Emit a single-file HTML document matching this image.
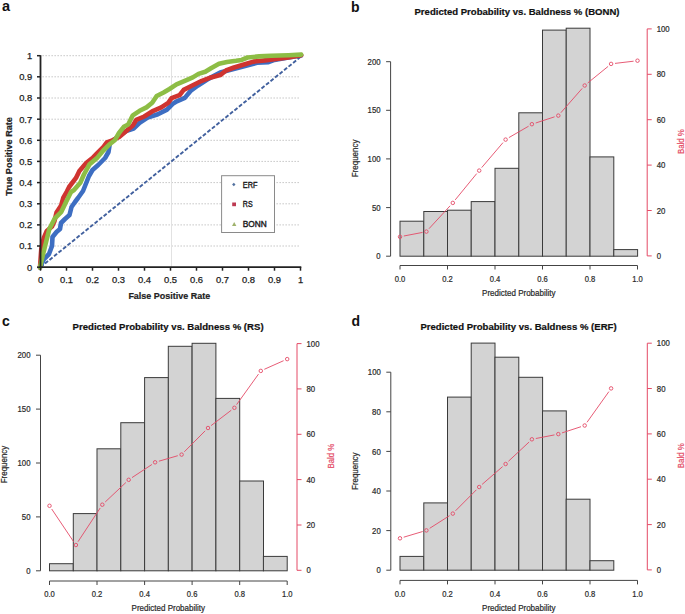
<!DOCTYPE html><html><head><meta charset="utf-8"><style>html,body{margin:0;padding:0;background:#fff;}svg{display:block;font-family:"Liberation Sans",sans-serif;}</style></head><body>
<svg width="685" height="614" viewBox="0 0 685 614">
<rect width="685" height="614" fill="#fff"/>
<line x1="42.5" y1="246.0" x2="300.5" y2="246.0" stroke="#bcbcbc" stroke-width="1" stroke-dasharray="1.3,1.7"/>
<line x1="42.5" y1="224.9" x2="300.5" y2="224.9" stroke="#bcbcbc" stroke-width="1" stroke-dasharray="1.3,1.7"/>
<line x1="42.5" y1="203.8" x2="300.5" y2="203.8" stroke="#bcbcbc" stroke-width="1" stroke-dasharray="1.3,1.7"/>
<line x1="42.5" y1="182.6" x2="300.5" y2="182.6" stroke="#bcbcbc" stroke-width="1" stroke-dasharray="1.3,1.7"/>
<line x1="42.5" y1="161.4" x2="300.5" y2="161.4" stroke="#bcbcbc" stroke-width="1" stroke-dasharray="1.3,1.7"/>
<line x1="42.5" y1="140.3" x2="300.5" y2="140.3" stroke="#bcbcbc" stroke-width="1" stroke-dasharray="1.3,1.7"/>
<line x1="42.5" y1="119.2" x2="300.5" y2="119.2" stroke="#bcbcbc" stroke-width="1" stroke-dasharray="1.3,1.7"/>
<line x1="42.5" y1="98.0" x2="300.5" y2="98.0" stroke="#bcbcbc" stroke-width="1" stroke-dasharray="1.3,1.7"/>
<line x1="42.5" y1="76.8" x2="300.5" y2="76.8" stroke="#bcbcbc" stroke-width="1" stroke-dasharray="1.3,1.7"/>
<line x1="42.5" y1="55.7" x2="300.5" y2="55.7" stroke="#bcbcbc" stroke-width="1" stroke-dasharray="1.3,1.7"/>
<line x1="171.5" y1="55.7" x2="171.5" y2="267.2" stroke="#e2e2e2" stroke-width="1"/>
<line x1="40.5" y1="267.2" x2="301.2" y2="56.4" stroke="#41609e" stroke-width="1.9" stroke-dasharray="3.9,1.9"/>
<polyline points="40,267.5 44,259 49,254 52,246 52.5,237 56.5,232 60,229 61,223 65,219 69.5,215 71.5,207 75,202 78,198 83,191 87,181 89,176 92.5,170 98.2,165 105.1,158 108.5,152 110,142.5 117,137.5 126,131.2 133.6,128.5 139.6,122.8 147.6,117.6 157.9,114.2 167,109.6 172.7,103.9 176.8,101.3 184.8,97.9 190.5,91 198,85.5 208.8,78.6 220.2,72.5 238.4,67.8 256.9,62.8 268.5,62.2 274.4,59.9 288.4,57.5 301,55.5" fill="none" stroke="#3d6ec2" stroke-width="4.6" stroke-linejoin="round" stroke-linecap="round"/>
<polyline points="40,267.5 41.3,249 43.8,238 46.8,231 52,226.5 54.5,221 56.5,212.5 61.1,205.6 63.2,198 67,191.3 69.1,187 76,177.9 79.4,171 86.2,163.1 93.1,157.4 96.5,154 103.3,147.1 106.8,142.5 112.5,140.3 119.2,136.9 126,131.3 132.8,125.6 136.2,119.9 144.2,116.5 153.3,110.8 161.3,107.4 168.2,102.8 171.6,98.2 179.5,95.2 183.7,89.9 192.8,85.3 201.9,80.8 211,77.4 220.2,75.1 226,70.5 234,67.5 244,64.5 253.4,61.6 265,60.4 274.4,59.3 288.4,57.5 301.2,55.2" fill="none" stroke="#cf3430" stroke-width="4.6" stroke-linejoin="round" stroke-linecap="round"/>
<polyline points="40,267.5 42.8,255.2 46.7,239.5 49.3,229.1 54.6,218.7 61.1,212.2 66.5,201 71,192 74,190 80.5,182.4 83.9,174.5 89.6,164.2 97.6,157.4 103.3,150.5 109,144.8 114.7,140.3 119,133 123.8,126.8 128.2,124.5 132.8,115.3 139.6,110.8 146.5,107.4 152.2,102.8 156.7,96 163.6,92.5 169.5,89 176.5,84.4 184.8,80.8 192.8,77.4 198.5,73.9 205.3,71.7 211,68.2 219,63.7 227,62 236.1,60.8 241.7,59.9 247.5,57.5 259.2,56.4 270.9,55.8 288.4,55.2 301.2,54.6" fill="none" stroke="#8dbd45" stroke-width="4.6" stroke-linejoin="round" stroke-linecap="round"/>
<line x1="40.5" y1="55.2" x2="40.5" y2="268.0" stroke="#222" stroke-width="1.8"/>
<line x1="39.7" y1="267.2" x2="301.3" y2="267.2" stroke="#222" stroke-width="1.8"/>
<line x1="37.0" y1="267.2" x2="40.5" y2="267.2" stroke="#222" stroke-width="1.5"/>
<text x="32.2" y="270.5" font-size="9.4" text-anchor="end" font-weight="normal" fill="#222" stroke="#222" stroke-width="0.25" >0</text>
<line x1="40.5" y1="267.2" x2="40.5" y2="270.7" stroke="#222" stroke-width="1.5"/>
<text x="40.5" y="282.6" font-size="9.4" text-anchor="middle" font-weight="normal" fill="#222" stroke="#222" stroke-width="0.25" >0</text>
<line x1="37.0" y1="246.0" x2="40.5" y2="246.0" stroke="#222" stroke-width="1.5"/>
<text x="32.2" y="249.3" font-size="9.4" text-anchor="end" font-weight="normal" fill="#222" stroke="#222" stroke-width="0.25" >0.1</text>
<line x1="66.5" y1="267.2" x2="66.5" y2="270.7" stroke="#222" stroke-width="1.5"/>
<text x="66.5" y="282.6" font-size="9.4" text-anchor="middle" font-weight="normal" fill="#222" stroke="#222" stroke-width="0.25" >0.1</text>
<line x1="37.0" y1="224.9" x2="40.5" y2="224.9" stroke="#222" stroke-width="1.5"/>
<text x="32.2" y="228.2" font-size="9.4" text-anchor="end" font-weight="normal" fill="#222" stroke="#222" stroke-width="0.25" >0.2</text>
<line x1="92.5" y1="267.2" x2="92.5" y2="270.7" stroke="#222" stroke-width="1.5"/>
<text x="92.5" y="282.6" font-size="9.4" text-anchor="middle" font-weight="normal" fill="#222" stroke="#222" stroke-width="0.25" >0.2</text>
<line x1="37.0" y1="203.8" x2="40.5" y2="203.8" stroke="#222" stroke-width="1.5"/>
<text x="32.2" y="207.1" font-size="9.4" text-anchor="end" font-weight="normal" fill="#222" stroke="#222" stroke-width="0.25" >0.3</text>
<line x1="118.5" y1="267.2" x2="118.5" y2="270.7" stroke="#222" stroke-width="1.5"/>
<text x="118.5" y="282.6" font-size="9.4" text-anchor="middle" font-weight="normal" fill="#222" stroke="#222" stroke-width="0.25" >0.3</text>
<line x1="37.0" y1="182.6" x2="40.5" y2="182.6" stroke="#222" stroke-width="1.5"/>
<text x="32.2" y="185.9" font-size="9.4" text-anchor="end" font-weight="normal" fill="#222" stroke="#222" stroke-width="0.25" >0.4</text>
<line x1="144.5" y1="267.2" x2="144.5" y2="270.7" stroke="#222" stroke-width="1.5"/>
<text x="144.5" y="282.6" font-size="9.4" text-anchor="middle" font-weight="normal" fill="#222" stroke="#222" stroke-width="0.25" >0.4</text>
<line x1="37.0" y1="161.4" x2="40.5" y2="161.4" stroke="#222" stroke-width="1.5"/>
<text x="32.2" y="164.8" font-size="9.4" text-anchor="end" font-weight="normal" fill="#222" stroke="#222" stroke-width="0.25" >0.5</text>
<line x1="170.5" y1="267.2" x2="170.5" y2="270.7" stroke="#222" stroke-width="1.5"/>
<text x="170.5" y="282.6" font-size="9.4" text-anchor="middle" font-weight="normal" fill="#222" stroke="#222" stroke-width="0.25" >0.5</text>
<line x1="37.0" y1="140.3" x2="40.5" y2="140.3" stroke="#222" stroke-width="1.5"/>
<text x="32.2" y="143.6" font-size="9.4" text-anchor="end" font-weight="normal" fill="#222" stroke="#222" stroke-width="0.25" >0.6</text>
<line x1="196.5" y1="267.2" x2="196.5" y2="270.7" stroke="#222" stroke-width="1.5"/>
<text x="196.5" y="282.6" font-size="9.4" text-anchor="middle" font-weight="normal" fill="#222" stroke="#222" stroke-width="0.25" >0.6</text>
<line x1="37.0" y1="119.2" x2="40.5" y2="119.2" stroke="#222" stroke-width="1.5"/>
<text x="32.2" y="122.5" font-size="9.4" text-anchor="end" font-weight="normal" fill="#222" stroke="#222" stroke-width="0.25" >0.7</text>
<line x1="222.5" y1="267.2" x2="222.5" y2="270.7" stroke="#222" stroke-width="1.5"/>
<text x="222.5" y="282.6" font-size="9.4" text-anchor="middle" font-weight="normal" fill="#222" stroke="#222" stroke-width="0.25" >0.7</text>
<line x1="37.0" y1="98.0" x2="40.5" y2="98.0" stroke="#222" stroke-width="1.5"/>
<text x="32.2" y="101.3" font-size="9.4" text-anchor="end" font-weight="normal" fill="#222" stroke="#222" stroke-width="0.25" >0.8</text>
<line x1="248.5" y1="267.2" x2="248.5" y2="270.7" stroke="#222" stroke-width="1.5"/>
<text x="248.5" y="282.6" font-size="9.4" text-anchor="middle" font-weight="normal" fill="#222" stroke="#222" stroke-width="0.25" >0.8</text>
<line x1="37.0" y1="76.8" x2="40.5" y2="76.8" stroke="#222" stroke-width="1.5"/>
<text x="32.2" y="80.1" font-size="9.4" text-anchor="end" font-weight="normal" fill="#222" stroke="#222" stroke-width="0.25" >0.9</text>
<line x1="274.5" y1="267.2" x2="274.5" y2="270.7" stroke="#222" stroke-width="1.5"/>
<text x="274.5" y="282.6" font-size="9.4" text-anchor="middle" font-weight="normal" fill="#222" stroke="#222" stroke-width="0.25" >0.9</text>
<line x1="37.0" y1="55.7" x2="40.5" y2="55.7" stroke="#222" stroke-width="1.5"/>
<text x="32.2" y="59.0" font-size="9.4" text-anchor="end" font-weight="normal" fill="#222" stroke="#222" stroke-width="0.25" >1</text>
<line x1="300.5" y1="267.2" x2="300.5" y2="270.7" stroke="#222" stroke-width="1.5"/>
<text x="300.5" y="282.6" font-size="9.4" text-anchor="middle" font-weight="normal" fill="#222" stroke="#222" stroke-width="0.25" >1</text>
<text x="169.3" y="298.9" font-size="9" text-anchor="middle" font-weight="bold" fill="#222" stroke="#222" stroke-width="0.2" textLength="81.8" lengthAdjust="spacingAndGlyphs" >False Positive Rate</text>
<text x="12.2" y="156.5" font-size="9" text-anchor="middle" font-weight="bold" fill="#222" stroke="#222" stroke-width="0.2" textLength="78.7" lengthAdjust="spacingAndGlyphs" transform="rotate(-90 12.2 156.5)" >True Positive Rate</text>
<rect x="221.6" y="175.7" width="52.9" height="56.8" fill="#fff" stroke="#8a8a8a" stroke-width="1"/>
<path d="M233.8,182.8 L235.5,184.5 L233.8,186.2 L232.1,184.5 Z" fill="#52719f"/>
<rect x="232.2" y="202.5" width="3.8" height="3.7" fill="#bd3a52"/>
<path d="M234.2,222 L236.4,226 L232,226 Z" fill="#9fb26c"/>
<text x="242.8" y="187.8" font-size="8.8" text-anchor="start" font-weight="normal" fill="#1a1a1a" stroke="#1a1a1a" stroke-width="0.4" textLength="14.6" lengthAdjust="spacingAndGlyphs" >ERF</text>
<text x="242.8" y="207.1" font-size="8.8" text-anchor="start" font-weight="normal" fill="#1a1a1a" stroke="#1a1a1a" stroke-width="0.4" textLength="9.8" lengthAdjust="spacingAndGlyphs" >RS</text>
<text x="242.8" y="226.9" font-size="8.8" text-anchor="start" font-weight="normal" fill="#1a1a1a" stroke="#1a1a1a" stroke-width="0.4" textLength="24" lengthAdjust="spacingAndGlyphs" >BONN</text>
<text x="2" y="10.5" font-size="14.5" text-anchor="start" font-weight="bold" fill="#111" >a</text>
<rect x="400.0" y="221.2" width="23.8" height="35.0" fill="#d3d3d3" stroke="#3a3a3a" stroke-width="1"/>
<rect x="423.8" y="211.5" width="23.8" height="44.7" fill="#d3d3d3" stroke="#3a3a3a" stroke-width="1"/>
<rect x="447.5" y="210.2" width="23.8" height="46.0" fill="#d3d3d3" stroke="#3a3a3a" stroke-width="1"/>
<rect x="471.2" y="201.6" width="23.8" height="54.6" fill="#d3d3d3" stroke="#3a3a3a" stroke-width="1"/>
<rect x="495.0" y="168.3" width="23.8" height="87.9" fill="#d3d3d3" stroke="#3a3a3a" stroke-width="1"/>
<rect x="518.8" y="112.8" width="23.8" height="143.4" fill="#d3d3d3" stroke="#3a3a3a" stroke-width="1"/>
<rect x="542.5" y="30.1" width="23.8" height="226.1" fill="#d3d3d3" stroke="#3a3a3a" stroke-width="1"/>
<rect x="566.2" y="28.2" width="23.8" height="228.0" fill="#d3d3d3" stroke="#3a3a3a" stroke-width="1"/>
<rect x="590.0" y="156.9" width="23.8" height="99.3" fill="#d3d3d3" stroke="#3a3a3a" stroke-width="1"/>
<rect x="613.8" y="249.6" width="23.8" height="6.6" fill="#d3d3d3" stroke="#3a3a3a" stroke-width="1"/>
<line x1="400.0" y1="265.5" x2="637.5" y2="265.5" stroke="#444" stroke-width="1"/>
<line x1="400.0" y1="265.5" x2="400.0" y2="269.5" stroke="#444" stroke-width="1"/>
<text x="400.0" y="281.5" font-size="8.8" text-anchor="middle" font-weight="normal" fill="#2a2a2a" stroke="#2a2a2a" stroke-width="0.22" textLength="10.6" lengthAdjust="spacingAndGlyphs" >0.0</text>
<line x1="447.5" y1="265.5" x2="447.5" y2="269.5" stroke="#444" stroke-width="1"/>
<text x="447.5" y="281.5" font-size="8.8" text-anchor="middle" font-weight="normal" fill="#2a2a2a" stroke="#2a2a2a" stroke-width="0.22" textLength="10.6" lengthAdjust="spacingAndGlyphs" >0.2</text>
<line x1="495.0" y1="265.5" x2="495.0" y2="269.5" stroke="#444" stroke-width="1"/>
<text x="495.0" y="281.5" font-size="8.8" text-anchor="middle" font-weight="normal" fill="#2a2a2a" stroke="#2a2a2a" stroke-width="0.22" textLength="10.6" lengthAdjust="spacingAndGlyphs" >0.4</text>
<line x1="542.5" y1="265.5" x2="542.5" y2="269.5" stroke="#444" stroke-width="1"/>
<text x="542.5" y="281.5" font-size="8.8" text-anchor="middle" font-weight="normal" fill="#2a2a2a" stroke="#2a2a2a" stroke-width="0.22" textLength="10.6" lengthAdjust="spacingAndGlyphs" >0.6</text>
<line x1="590.0" y1="265.5" x2="590.0" y2="269.5" stroke="#444" stroke-width="1"/>
<text x="590.0" y="281.5" font-size="8.8" text-anchor="middle" font-weight="normal" fill="#2a2a2a" stroke="#2a2a2a" stroke-width="0.22" textLength="10.6" lengthAdjust="spacingAndGlyphs" >0.8</text>
<line x1="637.5" y1="265.5" x2="637.5" y2="269.5" stroke="#444" stroke-width="1"/>
<text x="637.5" y="281.5" font-size="8.8" text-anchor="middle" font-weight="normal" fill="#2a2a2a" stroke="#2a2a2a" stroke-width="0.22" textLength="10.6" lengthAdjust="spacingAndGlyphs" >1.0</text>
<text x="518.8" y="295.8" font-size="8.8" text-anchor="middle" font-weight="normal" fill="#2a2a2a" stroke="#2a2a2a" stroke-width="0.22" textLength="73.5" lengthAdjust="spacingAndGlyphs" >Predicted Probability</text>
<line x1="390.6" y1="61.7" x2="390.6" y2="256.2" stroke="#444" stroke-width="1"/>
<line x1="386.1" y1="256.2" x2="390.6" y2="256.2" stroke="#444" stroke-width="1"/>
<text x="380.6" y="259.3" font-size="8.8" text-anchor="end" font-weight="normal" fill="#2a2a2a" stroke="#2a2a2a" stroke-width="0.22" textLength="4.3" lengthAdjust="spacingAndGlyphs" >0</text>
<line x1="386.1" y1="207.6" x2="390.6" y2="207.6" stroke="#444" stroke-width="1"/>
<text x="380.6" y="210.7" font-size="8.8" text-anchor="end" font-weight="normal" fill="#2a2a2a" stroke="#2a2a2a" stroke-width="0.22" textLength="8.7" lengthAdjust="spacingAndGlyphs" >50</text>
<line x1="386.1" y1="158.9" x2="390.6" y2="158.9" stroke="#444" stroke-width="1"/>
<text x="380.6" y="162.0" font-size="8.8" text-anchor="end" font-weight="normal" fill="#2a2a2a" stroke="#2a2a2a" stroke-width="0.22" textLength="13.0" lengthAdjust="spacingAndGlyphs" >100</text>
<line x1="386.1" y1="110.3" x2="390.6" y2="110.3" stroke="#444" stroke-width="1"/>
<text x="380.6" y="113.4" font-size="8.8" text-anchor="end" font-weight="normal" fill="#2a2a2a" stroke="#2a2a2a" stroke-width="0.22" textLength="13.0" lengthAdjust="spacingAndGlyphs" >150</text>
<line x1="386.1" y1="61.7" x2="390.6" y2="61.7" stroke="#444" stroke-width="1"/>
<text x="380.6" y="64.8" font-size="8.8" text-anchor="end" font-weight="normal" fill="#2a2a2a" stroke="#2a2a2a" stroke-width="0.22" textLength="13.0" lengthAdjust="spacingAndGlyphs" >200</text>
<text x="358.1" y="158.4" font-size="8.8" text-anchor="middle" font-weight="normal" fill="#2a2a2a" stroke="#2a2a2a" stroke-width="0.22" textLength="37.5" lengthAdjust="spacingAndGlyphs" transform="rotate(-90 358.1 158.4)" >Frequency</text>
<line x1="647.2" y1="28.9" x2="647.2" y2="255.9" stroke="#e44a66" stroke-width="1"/>
<line x1="647.2" y1="255.9" x2="651.7" y2="255.9" stroke="#e44a66" stroke-width="1"/>
<text x="656.7" y="259.0" font-size="8.8" text-anchor="start" font-weight="normal" fill="#2a2a2a" stroke="#2a2a2a" stroke-width="0.22" textLength="4.3" lengthAdjust="spacingAndGlyphs" >0</text>
<line x1="647.2" y1="210.5" x2="651.7" y2="210.5" stroke="#e44a66" stroke-width="1"/>
<text x="656.7" y="213.6" font-size="8.8" text-anchor="start" font-weight="normal" fill="#2a2a2a" stroke="#2a2a2a" stroke-width="0.22" textLength="8.7" lengthAdjust="spacingAndGlyphs" >20</text>
<line x1="647.2" y1="165.1" x2="651.7" y2="165.1" stroke="#e44a66" stroke-width="1"/>
<text x="656.7" y="168.2" font-size="8.8" text-anchor="start" font-weight="normal" fill="#2a2a2a" stroke="#2a2a2a" stroke-width="0.22" textLength="8.7" lengthAdjust="spacingAndGlyphs" >40</text>
<line x1="647.2" y1="119.7" x2="651.7" y2="119.7" stroke="#e44a66" stroke-width="1"/>
<text x="656.7" y="122.8" font-size="8.8" text-anchor="start" font-weight="normal" fill="#2a2a2a" stroke="#2a2a2a" stroke-width="0.22" textLength="8.7" lengthAdjust="spacingAndGlyphs" >60</text>
<line x1="647.2" y1="74.3" x2="651.7" y2="74.3" stroke="#e44a66" stroke-width="1"/>
<text x="656.7" y="77.4" font-size="8.8" text-anchor="start" font-weight="normal" fill="#2a2a2a" stroke="#2a2a2a" stroke-width="0.22" textLength="8.7" lengthAdjust="spacingAndGlyphs" >80</text>
<line x1="647.2" y1="28.9" x2="651.7" y2="28.9" stroke="#e44a66" stroke-width="1"/>
<text x="656.7" y="32.0" font-size="8.8" text-anchor="start" font-weight="normal" fill="#2a2a2a" stroke="#2a2a2a" stroke-width="0.22" textLength="13.0" lengthAdjust="spacingAndGlyphs" >100</text>
<text x="684.4" y="141.6" font-size="8.8" text-anchor="middle" font-weight="normal" fill="#e44a66" stroke="#e44a66" stroke-width="0.22" textLength="25" lengthAdjust="spacingAndGlyphs" transform="rotate(-90 684.4 141.6)" >Bald %</text>
<line x1="403.8" y1="236.0" x2="422.6" y2="232.4" stroke="#e44a66" stroke-width="0.9"/>
<line x1="429.0" y1="228.7" x2="450.1" y2="205.8" stroke="#e44a66" stroke-width="0.9"/>
<line x1="455.2" y1="199.9" x2="476.7" y2="173.6" stroke="#e44a66" stroke-width="0.9"/>
<line x1="481.7" y1="167.6" x2="503.0" y2="142.6" stroke="#e44a66" stroke-width="0.9"/>
<line x1="508.9" y1="137.6" x2="528.6" y2="126.2" stroke="#e44a66" stroke-width="0.9"/>
<line x1="535.7" y1="123.0" x2="554.6" y2="116.8" stroke="#e44a66" stroke-width="0.9"/>
<line x1="560.9" y1="112.7" x2="582.2" y2="88.4" stroke="#e44a66" stroke-width="0.9"/>
<line x1="587.7" y1="83.0" x2="608.1" y2="66.4" stroke="#e44a66" stroke-width="0.9"/>
<line x1="615.0" y1="63.4" x2="633.6" y2="61.2" stroke="#e44a66" stroke-width="0.9"/>
<circle cx="400.0" cy="236.8" r="1.75" fill="none" stroke="#e44a66" stroke-width="0.9"/>
<circle cx="426.4" cy="231.6" r="1.75" fill="none" stroke="#e44a66" stroke-width="0.9"/>
<circle cx="452.8" cy="202.9" r="1.75" fill="none" stroke="#e44a66" stroke-width="0.9"/>
<circle cx="479.2" cy="170.6" r="1.75" fill="none" stroke="#e44a66" stroke-width="0.9"/>
<circle cx="505.6" cy="139.6" r="1.75" fill="none" stroke="#e44a66" stroke-width="0.9"/>
<circle cx="531.9" cy="124.2" r="1.75" fill="none" stroke="#e44a66" stroke-width="0.9"/>
<circle cx="558.3" cy="115.6" r="1.75" fill="none" stroke="#e44a66" stroke-width="0.9"/>
<circle cx="584.7" cy="85.5" r="1.75" fill="none" stroke="#e44a66" stroke-width="0.9"/>
<circle cx="611.1" cy="63.9" r="1.75" fill="none" stroke="#e44a66" stroke-width="0.9"/>
<circle cx="637.5" cy="60.7" r="1.75" fill="none" stroke="#e44a66" stroke-width="0.9"/>
<text x="351" y="11.6" font-size="14" text-anchor="start" font-weight="bold" fill="#111" >b</text>
<text x="517.0" y="14.9" font-size="9.5" text-anchor="middle" font-weight="bold" fill="#111" stroke="#111" stroke-width="0.2" textLength="205" lengthAdjust="spacingAndGlyphs" >Predicted Probability vs. Baldness % (BONN)</text>
<rect x="49.5" y="563.7" width="23.8" height="7.1" fill="#d3d3d3" stroke="#3a3a3a" stroke-width="1"/>
<rect x="73.3" y="513.6" width="23.8" height="57.2" fill="#d3d3d3" stroke="#3a3a3a" stroke-width="1"/>
<rect x="97.0" y="448.8" width="23.8" height="122.0" fill="#d3d3d3" stroke="#3a3a3a" stroke-width="1"/>
<rect x="120.8" y="422.7" width="23.8" height="148.1" fill="#d3d3d3" stroke="#3a3a3a" stroke-width="1"/>
<rect x="144.6" y="377.6" width="23.8" height="193.2" fill="#d3d3d3" stroke="#3a3a3a" stroke-width="1"/>
<rect x="168.3" y="346.3" width="23.8" height="224.5" fill="#d3d3d3" stroke="#3a3a3a" stroke-width="1"/>
<rect x="192.1" y="343.3" width="23.8" height="227.5" fill="#d3d3d3" stroke="#3a3a3a" stroke-width="1"/>
<rect x="215.9" y="398.4" width="23.8" height="172.4" fill="#d3d3d3" stroke="#3a3a3a" stroke-width="1"/>
<rect x="239.7" y="481.0" width="23.8" height="89.8" fill="#d3d3d3" stroke="#3a3a3a" stroke-width="1"/>
<rect x="263.4" y="556.4" width="23.8" height="14.4" fill="#d3d3d3" stroke="#3a3a3a" stroke-width="1"/>
<line x1="49.5" y1="581" x2="287.2" y2="581" stroke="#444" stroke-width="1"/>
<line x1="49.5" y1="581" x2="49.5" y2="585" stroke="#444" stroke-width="1"/>
<text x="49.5" y="597.1" font-size="8.8" text-anchor="middle" font-weight="normal" fill="#2a2a2a" stroke="#2a2a2a" stroke-width="0.22" textLength="10.6" lengthAdjust="spacingAndGlyphs" >0.0</text>
<line x1="97.0" y1="581" x2="97.0" y2="585" stroke="#444" stroke-width="1"/>
<text x="97.0" y="597.1" font-size="8.8" text-anchor="middle" font-weight="normal" fill="#2a2a2a" stroke="#2a2a2a" stroke-width="0.22" textLength="10.6" lengthAdjust="spacingAndGlyphs" >0.2</text>
<line x1="144.6" y1="581" x2="144.6" y2="585" stroke="#444" stroke-width="1"/>
<text x="144.6" y="597.1" font-size="8.8" text-anchor="middle" font-weight="normal" fill="#2a2a2a" stroke="#2a2a2a" stroke-width="0.22" textLength="10.6" lengthAdjust="spacingAndGlyphs" >0.4</text>
<line x1="192.1" y1="581" x2="192.1" y2="585" stroke="#444" stroke-width="1"/>
<text x="192.1" y="597.1" font-size="8.8" text-anchor="middle" font-weight="normal" fill="#2a2a2a" stroke="#2a2a2a" stroke-width="0.22" textLength="10.6" lengthAdjust="spacingAndGlyphs" >0.6</text>
<line x1="239.7" y1="581" x2="239.7" y2="585" stroke="#444" stroke-width="1"/>
<text x="239.7" y="597.1" font-size="8.8" text-anchor="middle" font-weight="normal" fill="#2a2a2a" stroke="#2a2a2a" stroke-width="0.22" textLength="10.6" lengthAdjust="spacingAndGlyphs" >0.8</text>
<line x1="287.2" y1="581" x2="287.2" y2="585" stroke="#444" stroke-width="1"/>
<text x="287.2" y="597.1" font-size="8.8" text-anchor="middle" font-weight="normal" fill="#2a2a2a" stroke="#2a2a2a" stroke-width="0.22" textLength="10.6" lengthAdjust="spacingAndGlyphs" >1.0</text>
<text x="168.3" y="611.3" font-size="8.8" text-anchor="middle" font-weight="normal" fill="#2a2a2a" stroke="#2a2a2a" stroke-width="0.22" textLength="73.5" lengthAdjust="spacingAndGlyphs" >Predicted Probability</text>
<line x1="40.5" y1="355.2" x2="40.5" y2="570.8" stroke="#444" stroke-width="1"/>
<line x1="36.0" y1="570.8" x2="40.5" y2="570.8" stroke="#444" stroke-width="1"/>
<text x="30.5" y="573.9" font-size="8.8" text-anchor="end" font-weight="normal" fill="#2a2a2a" stroke="#2a2a2a" stroke-width="0.22" textLength="4.3" lengthAdjust="spacingAndGlyphs" >0</text>
<line x1="36.0" y1="516.9" x2="40.5" y2="516.9" stroke="#444" stroke-width="1"/>
<text x="30.5" y="520.0" font-size="8.8" text-anchor="end" font-weight="normal" fill="#2a2a2a" stroke="#2a2a2a" stroke-width="0.22" textLength="8.7" lengthAdjust="spacingAndGlyphs" >50</text>
<line x1="36.0" y1="463.0" x2="40.5" y2="463.0" stroke="#444" stroke-width="1"/>
<text x="30.5" y="466.1" font-size="8.8" text-anchor="end" font-weight="normal" fill="#2a2a2a" stroke="#2a2a2a" stroke-width="0.22" textLength="13.0" lengthAdjust="spacingAndGlyphs" >100</text>
<line x1="36.0" y1="409.1" x2="40.5" y2="409.1" stroke="#444" stroke-width="1"/>
<text x="30.5" y="412.2" font-size="8.8" text-anchor="end" font-weight="normal" fill="#2a2a2a" stroke="#2a2a2a" stroke-width="0.22" textLength="13.0" lengthAdjust="spacingAndGlyphs" >150</text>
<line x1="36.0" y1="355.2" x2="40.5" y2="355.2" stroke="#444" stroke-width="1"/>
<text x="30.5" y="358.3" font-size="8.8" text-anchor="end" font-weight="normal" fill="#2a2a2a" stroke="#2a2a2a" stroke-width="0.22" textLength="13.0" lengthAdjust="spacingAndGlyphs" >200</text>
<text x="7.3" y="464.5" font-size="8.8" text-anchor="middle" font-weight="normal" fill="#2a2a2a" stroke="#2a2a2a" stroke-width="0.22" textLength="37.5" lengthAdjust="spacingAndGlyphs" transform="rotate(-90 7.3 464.5)" >Frequency</text>
<line x1="297" y1="343.6" x2="297" y2="570.3" stroke="#e44a66" stroke-width="1"/>
<line x1="297" y1="570.3" x2="301.5" y2="570.3" stroke="#e44a66" stroke-width="1"/>
<text x="306.5" y="573.4" font-size="8.8" text-anchor="start" font-weight="normal" fill="#2a2a2a" stroke="#2a2a2a" stroke-width="0.22" textLength="4.3" lengthAdjust="spacingAndGlyphs" >0</text>
<line x1="297" y1="525.0" x2="301.5" y2="525.0" stroke="#e44a66" stroke-width="1"/>
<text x="306.5" y="528.1" font-size="8.8" text-anchor="start" font-weight="normal" fill="#2a2a2a" stroke="#2a2a2a" stroke-width="0.22" textLength="8.7" lengthAdjust="spacingAndGlyphs" >20</text>
<line x1="297" y1="479.6" x2="301.5" y2="479.6" stroke="#e44a66" stroke-width="1"/>
<text x="306.5" y="482.7" font-size="8.8" text-anchor="start" font-weight="normal" fill="#2a2a2a" stroke="#2a2a2a" stroke-width="0.22" textLength="8.7" lengthAdjust="spacingAndGlyphs" >40</text>
<line x1="297" y1="434.3" x2="301.5" y2="434.3" stroke="#e44a66" stroke-width="1"/>
<text x="306.5" y="437.4" font-size="8.8" text-anchor="start" font-weight="normal" fill="#2a2a2a" stroke="#2a2a2a" stroke-width="0.22" textLength="8.7" lengthAdjust="spacingAndGlyphs" >60</text>
<line x1="297" y1="388.9" x2="301.5" y2="388.9" stroke="#e44a66" stroke-width="1"/>
<text x="306.5" y="392.0" font-size="8.8" text-anchor="start" font-weight="normal" fill="#2a2a2a" stroke="#2a2a2a" stroke-width="0.22" textLength="8.7" lengthAdjust="spacingAndGlyphs" >80</text>
<line x1="297" y1="343.6" x2="301.5" y2="343.6" stroke="#e44a66" stroke-width="1"/>
<text x="306.5" y="346.7" font-size="8.8" text-anchor="start" font-weight="normal" fill="#2a2a2a" stroke="#2a2a2a" stroke-width="0.22" textLength="13.0" lengthAdjust="spacingAndGlyphs" >100</text>
<text x="334.2" y="456.1" font-size="8.8" text-anchor="middle" font-weight="normal" fill="#e44a66" stroke="#e44a66" stroke-width="0.22" textLength="25" lengthAdjust="spacingAndGlyphs" transform="rotate(-90 334.2 456.1)" >Bald %</text>
<line x1="51.7" y1="509.0" x2="73.7" y2="541.8" stroke="#e44a66" stroke-width="0.9"/>
<line x1="78.0" y1="541.7" x2="100.2" y2="508.0" stroke="#e44a66" stroke-width="0.9"/>
<line x1="105.2" y1="502.0" x2="125.9" y2="482.5" stroke="#e44a66" stroke-width="0.9"/>
<line x1="132.0" y1="477.6" x2="151.9" y2="464.5" stroke="#e44a66" stroke-width="0.9"/>
<line x1="158.9" y1="461.2" x2="177.8" y2="455.7" stroke="#e44a66" stroke-width="0.9"/>
<line x1="184.3" y1="451.8" x2="205.2" y2="430.8" stroke="#e44a66" stroke-width="0.9"/>
<line x1="211.1" y1="425.6" x2="231.3" y2="410.2" stroke="#e44a66" stroke-width="0.9"/>
<line x1="236.6" y1="404.6" x2="258.5" y2="374.1" stroke="#e44a66" stroke-width="0.9"/>
<line x1="264.3" y1="369.3" x2="283.6" y2="360.7" stroke="#e44a66" stroke-width="0.9"/>
<circle cx="49.5" cy="505.8" r="1.75" fill="none" stroke="#e44a66" stroke-width="0.9"/>
<circle cx="75.9" cy="545.0" r="1.75" fill="none" stroke="#e44a66" stroke-width="0.9"/>
<circle cx="102.3" cy="504.7" r="1.75" fill="none" stroke="#e44a66" stroke-width="0.9"/>
<circle cx="128.7" cy="479.8" r="1.75" fill="none" stroke="#e44a66" stroke-width="0.9"/>
<circle cx="155.1" cy="462.3" r="1.75" fill="none" stroke="#e44a66" stroke-width="0.9"/>
<circle cx="181.6" cy="454.6" r="1.75" fill="none" stroke="#e44a66" stroke-width="0.9"/>
<circle cx="208.0" cy="428.0" r="1.75" fill="none" stroke="#e44a66" stroke-width="0.9"/>
<circle cx="234.4" cy="407.8" r="1.75" fill="none" stroke="#e44a66" stroke-width="0.9"/>
<circle cx="260.8" cy="370.9" r="1.75" fill="none" stroke="#e44a66" stroke-width="0.9"/>
<circle cx="287.2" cy="359.1" r="1.75" fill="none" stroke="#e44a66" stroke-width="0.9"/>
<text x="2" y="325.5" font-size="14" text-anchor="start" font-weight="bold" fill="#111" >c</text>
<text x="168.1" y="329.8" font-size="9.5" text-anchor="middle" font-weight="bold" fill="#111" stroke="#111" stroke-width="0.2" textLength="191" lengthAdjust="spacingAndGlyphs" >Predicted Probability vs. Baldness % (RS)</text>
<rect x="400.0" y="556.4" width="23.8" height="13.8" fill="#d3d3d3" stroke="#3a3a3a" stroke-width="1"/>
<rect x="423.8" y="502.9" width="23.8" height="67.3" fill="#d3d3d3" stroke="#3a3a3a" stroke-width="1"/>
<rect x="447.5" y="397.1" width="23.8" height="173.1" fill="#d3d3d3" stroke="#3a3a3a" stroke-width="1"/>
<rect x="471.2" y="343.1" width="23.8" height="227.1" fill="#d3d3d3" stroke="#3a3a3a" stroke-width="1"/>
<rect x="495.0" y="357.2" width="23.8" height="213.0" fill="#d3d3d3" stroke="#3a3a3a" stroke-width="1"/>
<rect x="518.8" y="377.3" width="23.8" height="192.9" fill="#d3d3d3" stroke="#3a3a3a" stroke-width="1"/>
<rect x="542.5" y="410.9" width="23.8" height="159.3" fill="#d3d3d3" stroke="#3a3a3a" stroke-width="1"/>
<rect x="566.2" y="499.2" width="23.8" height="71.0" fill="#d3d3d3" stroke="#3a3a3a" stroke-width="1"/>
<rect x="590.0" y="560.7" width="23.8" height="9.5" fill="#d3d3d3" stroke="#3a3a3a" stroke-width="1"/>
<line x1="400.0" y1="580.4" x2="637.5" y2="580.4" stroke="#444" stroke-width="1"/>
<line x1="400.0" y1="580.4" x2="400.0" y2="584.4" stroke="#444" stroke-width="1"/>
<text x="400.0" y="596.9" font-size="8.8" text-anchor="middle" font-weight="normal" fill="#2a2a2a" stroke="#2a2a2a" stroke-width="0.22" textLength="10.6" lengthAdjust="spacingAndGlyphs" >0.0</text>
<line x1="447.5" y1="580.4" x2="447.5" y2="584.4" stroke="#444" stroke-width="1"/>
<text x="447.5" y="596.9" font-size="8.8" text-anchor="middle" font-weight="normal" fill="#2a2a2a" stroke="#2a2a2a" stroke-width="0.22" textLength="10.6" lengthAdjust="spacingAndGlyphs" >0.2</text>
<line x1="495.0" y1="580.4" x2="495.0" y2="584.4" stroke="#444" stroke-width="1"/>
<text x="495.0" y="596.9" font-size="8.8" text-anchor="middle" font-weight="normal" fill="#2a2a2a" stroke="#2a2a2a" stroke-width="0.22" textLength="10.6" lengthAdjust="spacingAndGlyphs" >0.4</text>
<line x1="542.5" y1="580.4" x2="542.5" y2="584.4" stroke="#444" stroke-width="1"/>
<text x="542.5" y="596.9" font-size="8.8" text-anchor="middle" font-weight="normal" fill="#2a2a2a" stroke="#2a2a2a" stroke-width="0.22" textLength="10.6" lengthAdjust="spacingAndGlyphs" >0.6</text>
<line x1="590.0" y1="580.4" x2="590.0" y2="584.4" stroke="#444" stroke-width="1"/>
<text x="590.0" y="596.9" font-size="8.8" text-anchor="middle" font-weight="normal" fill="#2a2a2a" stroke="#2a2a2a" stroke-width="0.22" textLength="10.6" lengthAdjust="spacingAndGlyphs" >0.8</text>
<line x1="637.5" y1="580.4" x2="637.5" y2="584.4" stroke="#444" stroke-width="1"/>
<text x="637.5" y="596.9" font-size="8.8" text-anchor="middle" font-weight="normal" fill="#2a2a2a" stroke="#2a2a2a" stroke-width="0.22" textLength="10.6" lengthAdjust="spacingAndGlyphs" >1.0</text>
<text x="518.8" y="610.7" font-size="8.8" text-anchor="middle" font-weight="normal" fill="#2a2a2a" stroke="#2a2a2a" stroke-width="0.22" textLength="73.5" lengthAdjust="spacingAndGlyphs" >Predicted Probability</text>
<line x1="390.8" y1="372.2" x2="390.8" y2="570.2" stroke="#444" stroke-width="1"/>
<line x1="386.3" y1="570.2" x2="390.8" y2="570.2" stroke="#444" stroke-width="1"/>
<text x="380.8" y="573.3" font-size="8.8" text-anchor="end" font-weight="normal" fill="#2a2a2a" stroke="#2a2a2a" stroke-width="0.22" textLength="4.3" lengthAdjust="spacingAndGlyphs" >0</text>
<line x1="386.3" y1="530.6" x2="390.8" y2="530.6" stroke="#444" stroke-width="1"/>
<text x="380.8" y="533.7" font-size="8.8" text-anchor="end" font-weight="normal" fill="#2a2a2a" stroke="#2a2a2a" stroke-width="0.22" textLength="8.7" lengthAdjust="spacingAndGlyphs" >20</text>
<line x1="386.3" y1="491.0" x2="390.8" y2="491.0" stroke="#444" stroke-width="1"/>
<text x="380.8" y="494.1" font-size="8.8" text-anchor="end" font-weight="normal" fill="#2a2a2a" stroke="#2a2a2a" stroke-width="0.22" textLength="8.7" lengthAdjust="spacingAndGlyphs" >40</text>
<line x1="386.3" y1="451.4" x2="390.8" y2="451.4" stroke="#444" stroke-width="1"/>
<text x="380.8" y="454.5" font-size="8.8" text-anchor="end" font-weight="normal" fill="#2a2a2a" stroke="#2a2a2a" stroke-width="0.22" textLength="8.7" lengthAdjust="spacingAndGlyphs" >60</text>
<line x1="386.3" y1="411.8" x2="390.8" y2="411.8" stroke="#444" stroke-width="1"/>
<text x="380.8" y="414.9" font-size="8.8" text-anchor="end" font-weight="normal" fill="#2a2a2a" stroke="#2a2a2a" stroke-width="0.22" textLength="8.7" lengthAdjust="spacingAndGlyphs" >80</text>
<line x1="386.3" y1="372.2" x2="390.8" y2="372.2" stroke="#444" stroke-width="1"/>
<text x="380.8" y="375.3" font-size="8.8" text-anchor="end" font-weight="normal" fill="#2a2a2a" stroke="#2a2a2a" stroke-width="0.22" textLength="13.0" lengthAdjust="spacingAndGlyphs" >100</text>
<text x="358.3" y="471.2" font-size="8.8" text-anchor="middle" font-weight="normal" fill="#2a2a2a" stroke="#2a2a2a" stroke-width="0.22" textLength="37.5" lengthAdjust="spacingAndGlyphs" transform="rotate(-90 358.3 471.2)" >Frequency</text>
<line x1="647.3" y1="343.2" x2="647.3" y2="569.9" stroke="#e44a66" stroke-width="1"/>
<line x1="647.3" y1="569.9" x2="651.8" y2="569.9" stroke="#e44a66" stroke-width="1"/>
<text x="656.8" y="573.0" font-size="8.8" text-anchor="start" font-weight="normal" fill="#2a2a2a" stroke="#2a2a2a" stroke-width="0.22" textLength="4.3" lengthAdjust="spacingAndGlyphs" >0</text>
<line x1="647.3" y1="524.6" x2="651.8" y2="524.6" stroke="#e44a66" stroke-width="1"/>
<text x="656.8" y="527.7" font-size="8.8" text-anchor="start" font-weight="normal" fill="#2a2a2a" stroke="#2a2a2a" stroke-width="0.22" textLength="8.7" lengthAdjust="spacingAndGlyphs" >20</text>
<line x1="647.3" y1="479.2" x2="651.8" y2="479.2" stroke="#e44a66" stroke-width="1"/>
<text x="656.8" y="482.3" font-size="8.8" text-anchor="start" font-weight="normal" fill="#2a2a2a" stroke="#2a2a2a" stroke-width="0.22" textLength="8.7" lengthAdjust="spacingAndGlyphs" >40</text>
<line x1="647.3" y1="433.9" x2="651.8" y2="433.9" stroke="#e44a66" stroke-width="1"/>
<text x="656.8" y="437.0" font-size="8.8" text-anchor="start" font-weight="normal" fill="#2a2a2a" stroke="#2a2a2a" stroke-width="0.22" textLength="8.7" lengthAdjust="spacingAndGlyphs" >60</text>
<line x1="647.3" y1="388.5" x2="651.8" y2="388.5" stroke="#e44a66" stroke-width="1"/>
<text x="656.8" y="391.6" font-size="8.8" text-anchor="start" font-weight="normal" fill="#2a2a2a" stroke="#2a2a2a" stroke-width="0.22" textLength="8.7" lengthAdjust="spacingAndGlyphs" >80</text>
<line x1="647.3" y1="343.2" x2="651.8" y2="343.2" stroke="#e44a66" stroke-width="1"/>
<text x="656.8" y="346.3" font-size="8.8" text-anchor="start" font-weight="normal" fill="#2a2a2a" stroke="#2a2a2a" stroke-width="0.22" textLength="13.0" lengthAdjust="spacingAndGlyphs" >100</text>
<text x="684.5" y="455.7" font-size="8.8" text-anchor="middle" font-weight="normal" fill="#e44a66" stroke="#e44a66" stroke-width="0.22" textLength="25" lengthAdjust="spacingAndGlyphs" transform="rotate(-90 684.5 455.7)" >Bald %</text>
<line x1="403.7" y1="537.2" x2="422.7" y2="531.5" stroke="#e44a66" stroke-width="0.9"/>
<line x1="429.7" y1="528.3" x2="449.5" y2="515.7" stroke="#e44a66" stroke-width="0.9"/>
<line x1="455.5" y1="510.8" x2="476.4" y2="489.8" stroke="#e44a66" stroke-width="0.9"/>
<line x1="482.1" y1="484.4" x2="502.6" y2="466.6" stroke="#e44a66" stroke-width="0.9"/>
<line x1="508.4" y1="461.3" x2="529.1" y2="442.0" stroke="#e44a66" stroke-width="0.9"/>
<line x1="535.8" y1="438.5" x2="554.5" y2="434.9" stroke="#e44a66" stroke-width="0.9"/>
<line x1="562.0" y1="432.9" x2="581.0" y2="426.7" stroke="#e44a66" stroke-width="0.9"/>
<line x1="587.0" y1="422.3" x2="608.9" y2="391.6" stroke="#e44a66" stroke-width="0.9"/>
<circle cx="400.0" cy="538.3" r="1.75" fill="none" stroke="#e44a66" stroke-width="0.9"/>
<circle cx="426.4" cy="530.4" r="1.75" fill="none" stroke="#e44a66" stroke-width="0.9"/>
<circle cx="452.8" cy="513.6" r="1.75" fill="none" stroke="#e44a66" stroke-width="0.9"/>
<circle cx="479.2" cy="487.0" r="1.75" fill="none" stroke="#e44a66" stroke-width="0.9"/>
<circle cx="505.6" cy="464.0" r="1.75" fill="none" stroke="#e44a66" stroke-width="0.9"/>
<circle cx="531.9" cy="439.3" r="1.75" fill="none" stroke="#e44a66" stroke-width="0.9"/>
<circle cx="558.3" cy="434.1" r="1.75" fill="none" stroke="#e44a66" stroke-width="0.9"/>
<circle cx="584.7" cy="425.5" r="1.75" fill="none" stroke="#e44a66" stroke-width="0.9"/>
<circle cx="611.1" cy="388.4" r="1.75" fill="none" stroke="#e44a66" stroke-width="0.9"/>
<text x="351.5" y="326" font-size="14" text-anchor="start" font-weight="bold" fill="#111" >d</text>
<text x="518.5" y="329.8" font-size="9.5" text-anchor="middle" font-weight="bold" fill="#111" stroke="#111" stroke-width="0.2" textLength="196.2" lengthAdjust="spacingAndGlyphs" >Predicted Probability vs. Baldness % (ERF)</text>
</svg></body></html>
